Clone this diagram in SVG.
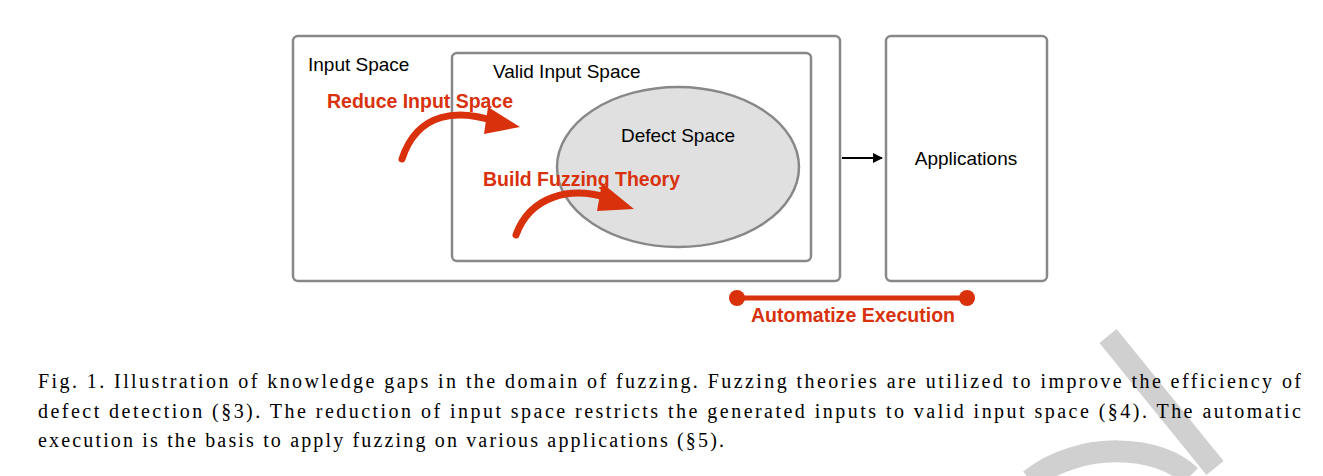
<svg xmlns="http://www.w3.org/2000/svg" width="1323" height="476" viewBox="0 0 1323 476">
<style>
.box{fill:#fff;stroke:#888;stroke-width:2.5}
.lbl{font-family:"Liberation Sans",Arial,sans-serif;font-size:19px;fill:#000}
.red{font-family:"Liberation Sans",Arial,sans-serif;font-size:21px;font-weight:bold;fill:#d8310c}
.rs{fill:none;stroke:#d8310c;stroke-width:7;stroke-linecap:round}
.cap{font-family:"Liberation Serif","DejaVu Serif",serif;font-size:20px;fill:#000}
</style>
<defs>
<marker id="bh" viewBox="0 0 10 10" refX="9" refY="5" markerWidth="10" markerHeight="10" orient="auto" markerUnits="userSpaceOnUse"><path d="M0,0L10,5L0,10z" fill="#000"/></marker>
</defs>
<rect width="1323" height="476" fill="#fff"/>
<g fill="none" stroke="#d0d0d0" stroke-width="22"><path d="M1108,336L1215,468"/><path d="M1030,480C1080,440 1160,445 1190,476"/></g>
<g id="input-space"><rect class="box" x="293" y="36" width="547" height="245" rx="5"/><text class="lbl" x="308" y="71">Input Space</text></g>
<g id="valid-input-space"><rect class="box" x="452" y="53" width="359" height="208" rx="5"/><text class="lbl" x="493" y="78">Valid Input Space</text></g>
<g id="defect-space"><ellipse cx="678" cy="167" rx="121" ry="80" fill="#e0e0e0" stroke="#888" stroke-width="2.5"/><text class="lbl" x="678" y="142" text-anchor="middle">Defect Space</text></g>
<g id="applications"><rect class="box" x="886" y="36" width="161" height="245" rx="5"/><text class="lbl" x="966" y="165" text-anchor="middle">Applications</text></g>
<g id="connectors">
<path d="M842,158H882" stroke="#000" stroke-width="2" marker-end="url(#bh)"/>
<path class="rs" d="M402,159C418,110 460,110 494,121"/>
<path d="M488,107L520,127L484,134z" fill="#d8310c"/>
<path class="rs" d="M516,235C530,196 570,186 608,198"/>
<path d="M602,183L634,209L597,211z" fill="#d8310c"/>
<path d="M737,298H967" stroke="#d8310c" stroke-width="5"/>
<circle cx="737" cy="298" r="8" fill="#d8310c"/><circle cx="967" cy="298" r="8" fill="#d8310c"/>
</g>
<text class="red" x="327" y="108" textLength="186" lengthAdjust="spacingAndGlyphs">Reduce Input Space</text>
<text class="red" x="483" y="186" textLength="197" lengthAdjust="spacingAndGlyphs">Build Fuzzing Theory</text>
<text class="red" x="751" y="322" textLength="204" lengthAdjust="spacingAndGlyphs">Automatize Execution</text>
<text class="cap" x="38" y="388" textLength="1263" lengthAdjust="spacing">Fig. 1.  Illustration of knowledge gaps in the domain of fuzzing. Fuzzing theories are utilized to improve the efficiency of</text>
<text class="cap" x="38" y="418" textLength="1263" lengthAdjust="spacing">defect detection (§3). The reduction of input space restricts the generated inputs to valid input space (§4). The automatic</text>
<text class="cap" x="38" y="447" textLength="686" lengthAdjust="spacing">execution is the basis to apply fuzzing on various applications (§5).</text>
</svg>
